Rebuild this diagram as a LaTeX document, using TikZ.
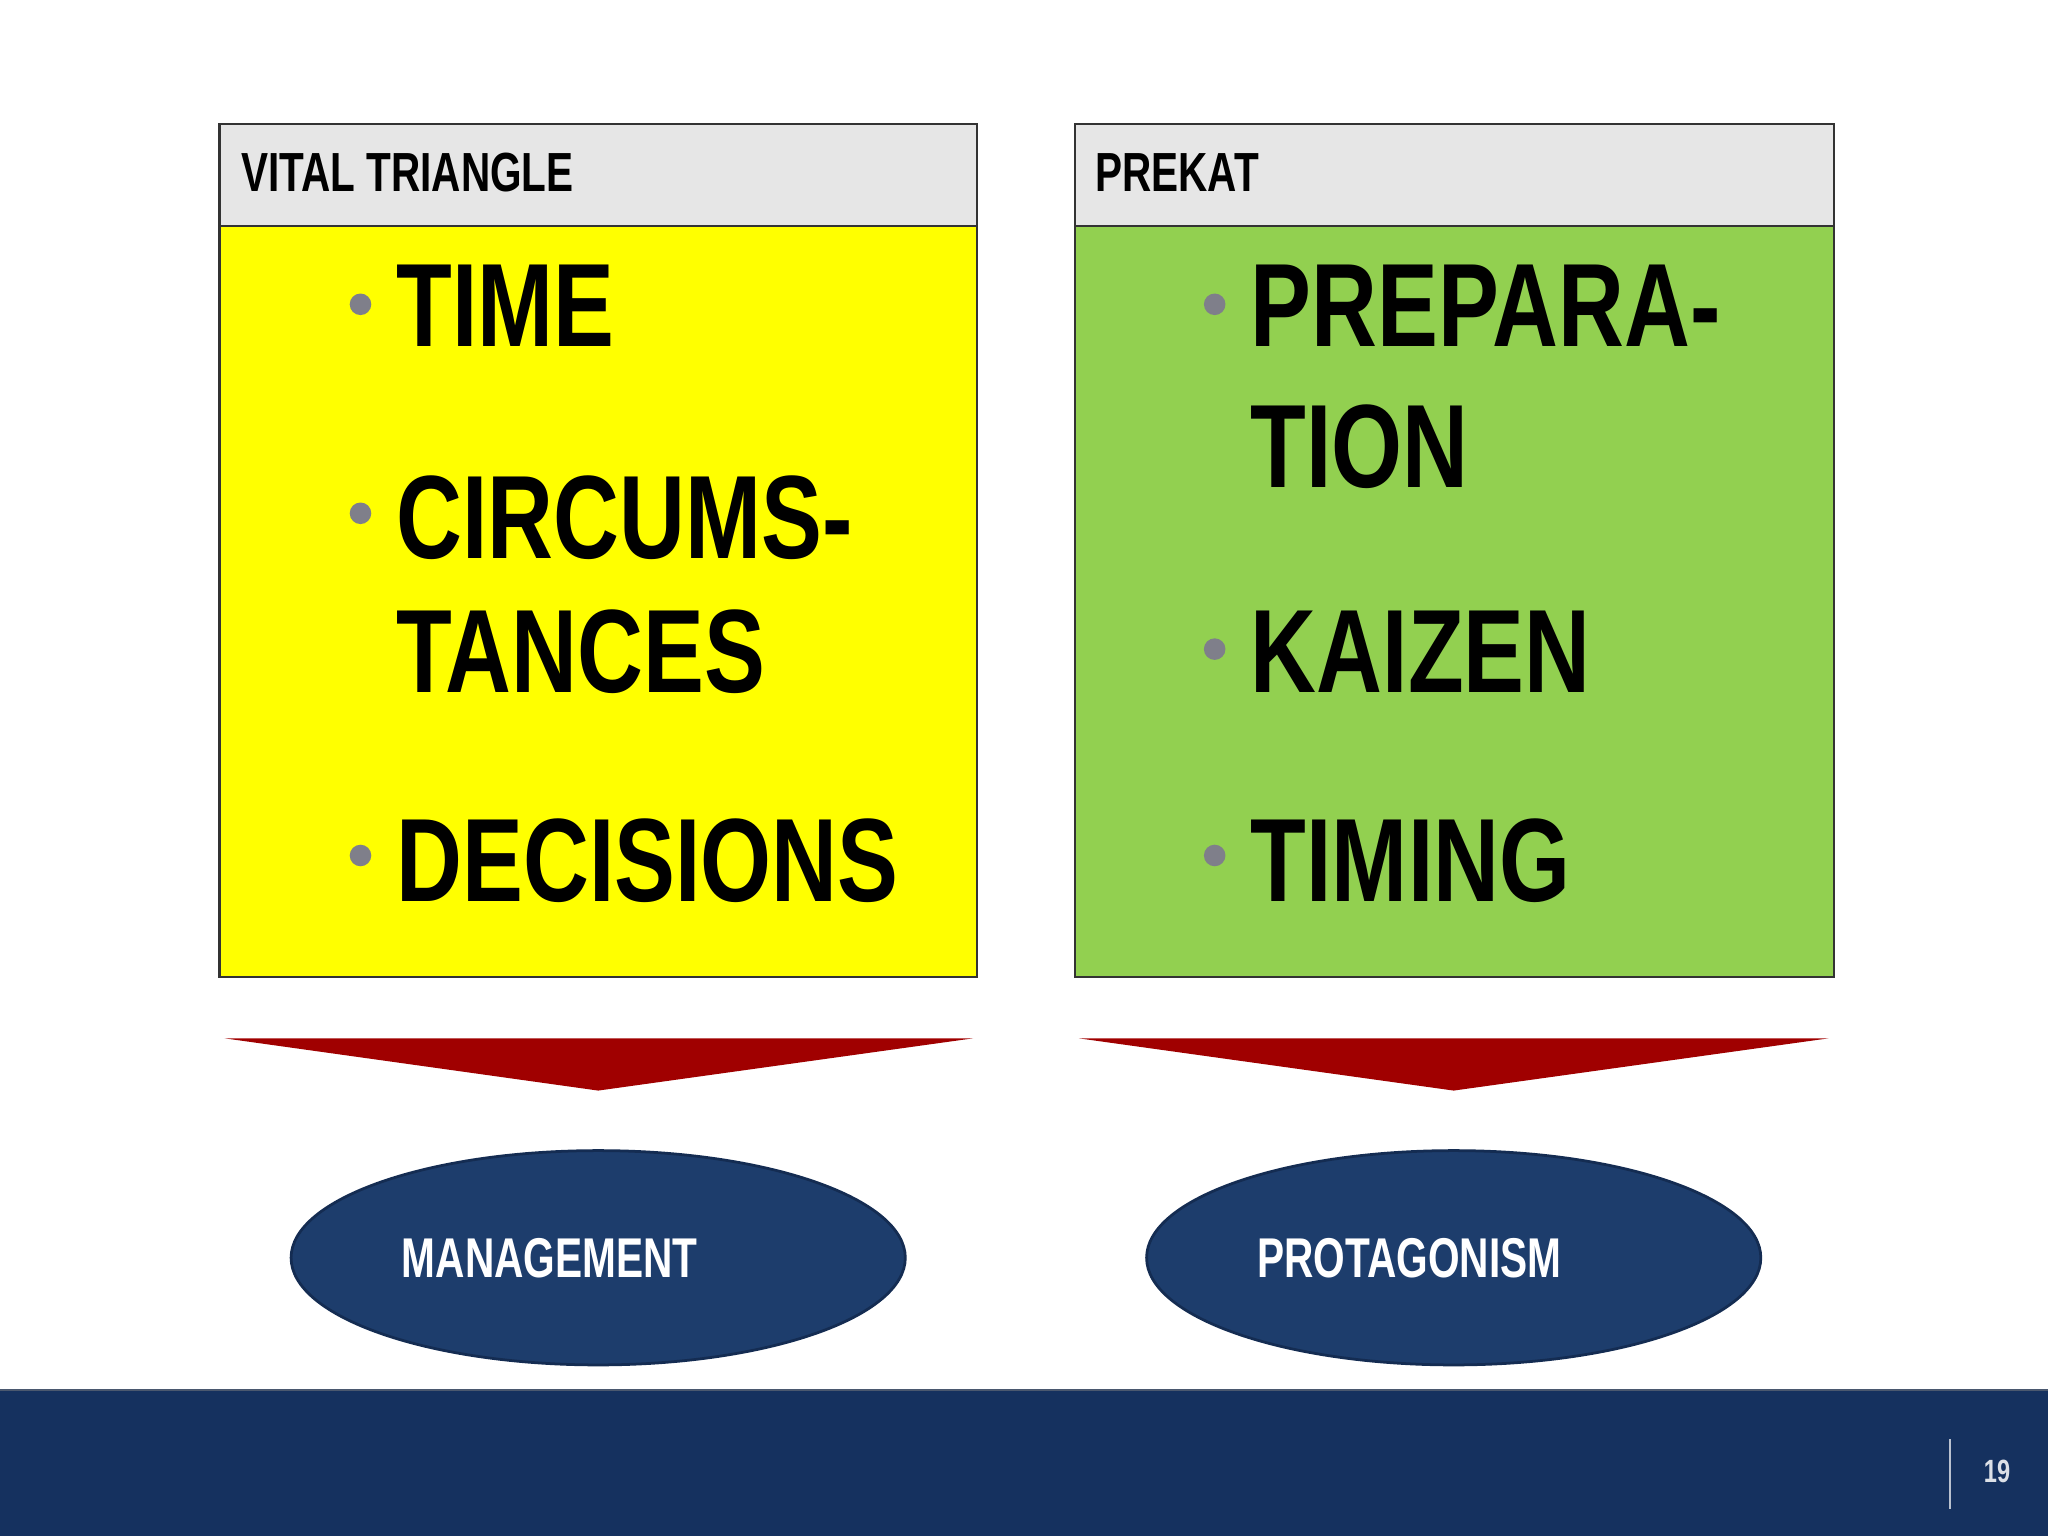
\documentclass[tikz,border=0pt]{standalone}
\usepackage{fontspec}
\setmainfont{Liberation Sans}
\newfontfamily\cond[FakeStretch=0.77]{Liberation Sans Bold}
\newfontfamily\condh[FakeStretch=0.735]{Liberation Sans Bold}
\newfontfamily\condo[FakeStretch=0.725]{Liberation Sans Bold}
\usetikzlibrary{shapes.geometric}
\definecolor{boxline}{HTML}{333333}
\definecolor{headgray}{HTML}{E6E6E6}
\definecolor{ylw}{HTML}{FFFF00}
\definecolor{grn}{HTML}{92D050}
\definecolor{chev}{HTML}{A00000}
\definecolor{ellfill}{HTML}{1D3D6C}
\definecolor{elledge}{HTML}{142C52}
\definecolor{barblue}{HTML}{15315F}
\definecolor{dotgray}{HTML}{7F7F8A}
\tikzset{
  panel/.style={draw=boxline, line width=0.5pt},
  headtext/.style={anchor=base west, inner sep=0pt, font=\condh\fontsize{12}{14}\selectfont},
  itemtext/.style={anchor=base west, inner sep=0pt, font=\cond\fontsize{25.8}{30}\selectfont},
  bul/.style={circle, fill=dotgray, inner sep=0pt, minimum size=0.165cm},
  chevron/.style={fill=chev},
  oval/.style={ellipse, fill=ellfill, draw=elledge, line width=0.6pt, minimum width=4.7cm, minimum height=1.64cm, inner sep=0pt},
  ovaltext/.style={anchor=base west, inner sep=0pt, text=white, font=\condo\fontsize{12.2}{14}\selectfont},
}
\begin{document}
\begin{tikzpicture}[x=0.01cm, y=0.01cm]
\useasboundingbox (0,0) rectangle (1568,1176);
\fill[white] (0,0) rectangle (1568,1176);
% left panel
\filldraw[panel, fill=ylw] (168,428) rectangle (748,1003);
\filldraw[panel, fill=headgray] (168,1003) rectangle (748,1081);
\node[headtext] (hl) at (184,1029) {VITAL TRIANGLE};
\node[bul] (bl1) at (276,943) {};
\node[itemtext] (tl1) at (303,911) {TIME};
\node[bul] (bl2) at (276,783) {};
\node[itemtext] (tl2) at (303,748) {CIRCUMS-};
\node[itemtext] (tl3) at (303,646) {TANCES};
\node[bul] (bl3) at (276,521) {};
\node[itemtext] (tl4) at (303,486) {DECISIONS};
% right panel
\filldraw[panel, fill=grn] (823,428) rectangle (1404,1003);
\filldraw[panel, fill=headgray] (823,1003) rectangle (1404,1081);
\node[headtext] (hr) at (838,1029) {PREKAT};
\node[bul] (br1) at (930,943) {};
\node[itemtext] (tr1) at (957,911) {PREPARA-};
\node[itemtext] (tr2) at (957,803) {TION};
\node[bul] (br2) at (930,679) {};
\node[itemtext] (tr3) at (957,646) {KAIZEN};
\node[bul] (br3) at (930,521) {};
\node[itemtext] (tr4) at (957,486) {TIMING};
% chevrons
\fill[chevron] (172,381) -- (745,381) -- (458,341) -- cycle;
\fill[chevron] (826,381) -- (1400,381) -- (1113,341) -- cycle;
% ovals
\node[oval] (ol) at (458,213) {};
\node[ovaltext] (olt) at (307,198) {MANAGEMENT};
\node[oval] (or) at (1113,213) {};
\node[ovaltext] (ort) at (962,198) {PROTAGONISM};
% bottom bar
\fill[barblue] (0,0) rectangle (1568,112);
\draw[gray!50!barblue, line width=0.4pt] (0,112) -- (1568,112);
\coordinate (sa) at (1493,74);
\coordinate (sb) at (1493,21);
\draw[white!70!barblue, line width=0.5pt] (sa) -- (sb);
\node[anchor=base, inner sep=0pt, text=white!85!barblue, font=\condh\fontsize{7}{8}\selectfont] (pg) at (1529,41) {19};
\end{tikzpicture}
\end{document}
